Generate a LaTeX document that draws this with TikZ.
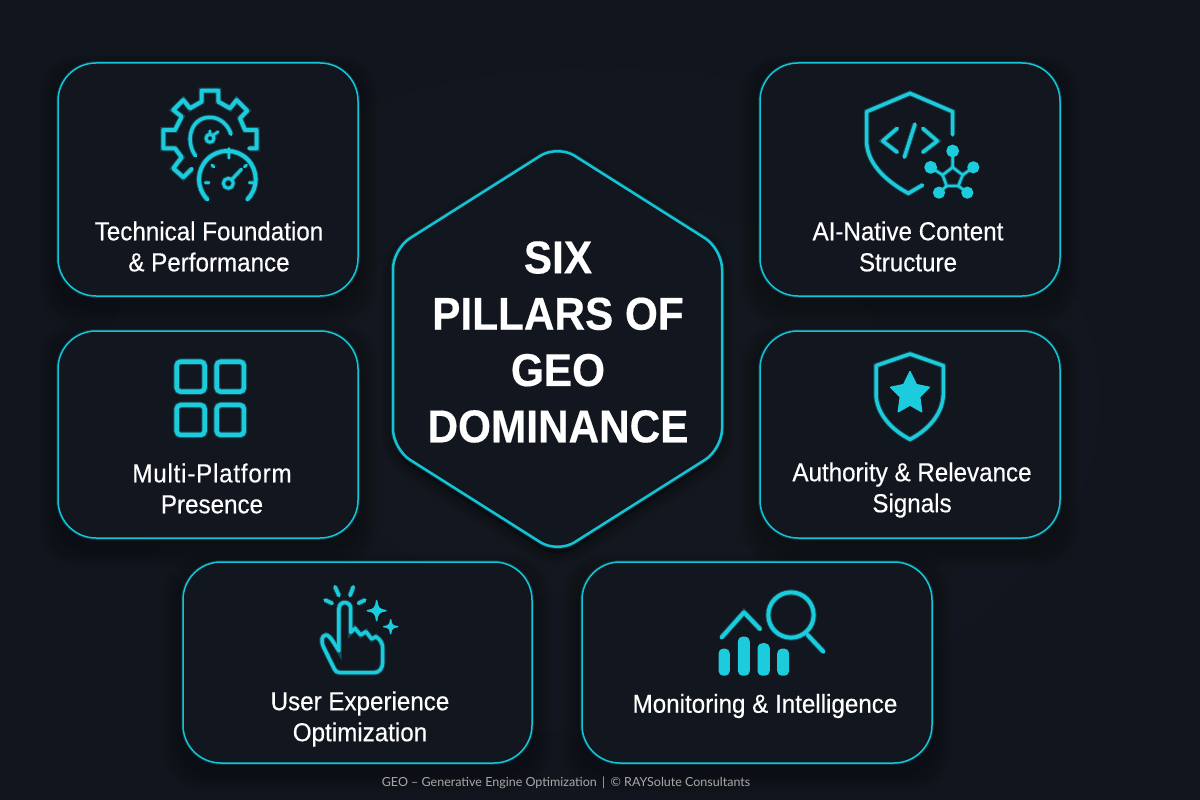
\documentclass[tikz,border=0pt]{standalone}
\usepackage{fontspec}
\setmainfont{Liberation Sans}
\newfontfamily\footfont{Lato}
\usetikzlibrary{calc}
\definecolor{bgc}{HTML}{141820}
\definecolor{bgd}{HTML}{11151D}
\definecolor{ic}{HTML}{1CCBDC}
\definecolor{cardline}{HTML}{14C4D6}
\definecolor{foot}{HTML}{A8A8A8}
\tikzset{
  iconline/.style={draw=ic,line width=#1,line cap=round,line join=round,
    preaction={draw=ic,opacity=.3,line width=#1+2pt}},
  iconfill/.style={fill=ic,draw=ic,line width=1.5pt,line join=round},
  cardbox/.style={draw=cardline,line width=1.5pt,rounded corners=38pt,inner sep=0pt,fill=bgc!40!bgd,
    preaction={draw=cardline,opacity=.2,line width=3.5pt}},
  cardtext/.style={text=white,align=center,font=\fontsize{26}{31}\selectfont\addfontfeature{FakeStretch=0.93,FakeBold=0.4},inner sep=0pt},
  titletext/.style={text=white,align=center,font=\fontsize{46}{56.3}\selectfont\bfseries\addfontfeature{FakeStretch=0.92,FakeBold=0.4},inner sep=0pt},
  foottext/.style={text=foot,font=\footfont\fontsize{12.5}{15}\selectfont,inner sep=0pt},
}
\newcommand{\mkcard}[5]{%
  \foreach \i in {1,...,6}{\fill[black,opacity=.04,rounded corners=38pt]
    ({#2-\i*3.2},{#3+10-\i*3.2}) rectangle ({#4+\i*3.2},{#5+10+\i*3.2});}
  \pgfmathsetmacro{\cw}{#4-#2}\pgfmathsetmacro{\ch}{#5-#3}
  \node[cardbox,minimum width=\cw pt,minimum height=\ch pt] (#1) at ({(#2+#4)/2},{(#3+#5)/2}) {};
}
\begin{document}
\begin{tikzpicture}[x=1pt,y=-1pt]
\useasboundingbox (0,0) rectangle (1200,800);
\fill[bgc] (0,0) rectangle (1200,800);
\shade[inner color=bgc,outer color=bgd] (0,0) rectangle (1200,800);

\mkcard{tl}{58}{63}{358}{296}
\mkcard{ml}{58}{331}{358}{538}
\mkcard{tr}{760}{63}{1060}{296}
\mkcard{mr}{760}{331}{1060}{538}
\mkcard{bl}{183}{562}{532}{763}
\mkcard{br}{582}{562}{932}{763}

% hexagon
\foreach \i in {1,...,5}{\fill[black,opacity=.04,rounded corners=20pt,line join=round,draw=black,line width=\i*5pt]
  (557.5,151) -- (722,255) -- (722,455) -- (557.5,559) -- (393,455) -- (393,255) -- cycle;}
\draw[draw=cardline,line width=2.5pt,rounded corners=20pt,fill=bgc!40!bgd,
  preaction={draw=cardline,opacity=.2,line width=4.5pt}]
  (557.5,145) -- (722,249) -- (722,449) -- (557.5,553) -- (393,449) -- (393,249) -- cycle;

\node[titletext] (title) at (558,342) {SIX\\PILLARS OF\\GEO\\DOMINANCE};

\node[cardtext] (tltext) at (209,246.5) {Technical Foundation\\\& Performance};
\node[cardtext] (mltext) at (212,488.5) {{\addfontfeature{LetterSpace=3}Multi-Platform}\\Presence};
\node[cardtext] (trtext) at (908,246.5) {AI-Native Content\\Structure};
\node[cardtext] (mrtext) at (912,490) {Authority \& Relevance\\Signals};
\node[cardtext] (bltext) at (360,719) {User Experience\\Optimization};
\node[cardtext] (brtext) at (765,706) {Monitoring \& Intelligence};
\node[foottext] (foot) at (566,783) {GEO – Generative Engine Optimization \,|\, © RAYSolute Consultants};

% gear icon
\begin{scope}[shift={(130,70)},x=.3333pt,y=-.3333pt]
\draw[iconline=4pt] (185,297)--(160,322)--(130,295)--(155,262)--(135,235)--(100,235)--(100,180)--(135,180)--(155,140)--(130,120)--(160,90)--(180,115)--(215,95)--(215,62)--(265,62)--(265,95)--(300,115)--(320,90)--(352,122)--(330,145)--(345,180)--(380,180)--(380,235)--(358,235);
\draw[iconline=3.5pt] (197,258) .. controls (165,215) and (180,142) .. (240,142) .. controls (270,142) and (295,165) .. (303,193);
\draw[iconline=3pt] (240,205) circle (12);
\draw[iconline=2.5pt] (250,195)--(265,185) (240,182)--(240,190);
\draw[iconline=4pt] (232,388) arc[start angle=135,end angle=405,radius=85];
\draw[iconline=2.5pt] (297,235)--(297,265) (245,285)--(252,291) (350,285)--(343,291) (225,338)--(238,338) (370,338)--(357,338);
\draw[iconline=3pt] (295,340) circle (15);
\draw[iconline=3pt] (306,328)--(335,297);
\end{scope}

% shield + code + molecule icon
\begin{scope}[shift={(840,80)},x=.3333pt,y=-.3333pt]
\draw[iconline=3.5pt] (338,165)--(338,95)--(210,40)--(80,95)--(80,190) .. controls (85,260) and (150,310) .. (205,340)--(248,315);
\draw[iconline=3.5pt] (172,145)--(128,183)--(172,217);
\draw[iconline=3.5pt] (225,132)--(193,232);
\draw[iconline=3.5pt] (248,145)--(292,183)--(248,217);
\draw[iconline=2.5pt] (338,262)--(368,285)--(355,318)--(320,318)--(308,285)--cycle;
\draw[iconline=2.5pt] (338,262)--(338,213) (368,285)--(400,262) (355,318)--(382,338) (320,318)--(297,338) (308,285)--(272,262);
\fill[iconfill] (338,213) circle (17) (272,262) circle (17) (400,262) circle (16) (297,338) circle (16) (382,338) circle (16);
\end{scope}

% grid icon
\begin{scope}[shift={(150,345)},x=.3333pt,y=-.3333pt]
\foreach \a/\b/\c/\d in {80/50/164/140,200/50/282/140,80/180/164/270,200/180/282/270}{
  \draw[iconline=4.5pt,rounded corners=4pt] (\a,\b) rectangle (\c,\d);}
\end{scope}

% shield + star icon
\begin{scope}[shift={(860,350)},x=.3333pt,y=-.3333pt]
\draw[iconline=3.5pt] (150,12)--(250,47)--(250,130) .. controls (250,190) and (205,240) .. (150,268) .. controls (95,240) and (48,190) .. (48,130)--(48,47)--cycle;
\fill[iconfill] (150,65)--(169,104)--(208,112)--(179,141)--(185,185)--(150,165)--(115,185)--(121,141)--(92,112)--(131,104)--cycle;
\end{scope}

% hand icon
\begin{scope}[shift={(290,575)},x=.3333pt,y=-.3333pt]
\draw[iconline=3.5pt] (135,35)--(147,62) (190,35)--(180,62) (105,75)--(127,85) (225,75)--(205,85);
\fill[iconfill] (260,77) .. controls (262,98) and (268,105) .. (288,107) .. controls (268,109) and (262,116) .. (260,137) .. controls (258,116) and (252,109) .. (232,107) .. controls (252,105) and (258,98) .. (260,77) -- cycle;
\fill[iconfill] (302,134) .. controls (303,149) and (308,154) .. (323,155) .. controls (308,156) and (303,161) .. (302,176) .. controls (301,161) and (296,156) .. (281,155) .. controls (296,154) and (301,149) .. (302,134) -- cycle;
\draw[iconline=3.5pt] (147,228)--(147,100) arc[start angle=180,end angle=360,radius=17.5]--(182,172)--(195,160)--(212,180)--(228,170)--(245,192)--(258,185) .. controls (272,195) and (278,205) .. (278,220)--(278,262) .. controls (278,280) and (268,293) .. (252,293)--(150,293) .. controls (140,293) and (137,288) .. (133,282)--(100,215) .. controls (92,198) and (95,182) .. (108,180) .. controls (120,180) and (135,210) .. (147,228)--cycle;
\end{scope}

% chart + magnifier icon
\begin{scope}[shift={(700,580)},x=.3333pt,y=-.3333pt]
\draw[iconline=4pt] (65,172)--(132,97)--(180,147);
\foreach \a/\b/\c in {58/87/208,116/147/172,175/207/192,234/265/208}{
  \fill[iconfill,rounded corners=4pt] (\a,\c) rectangle (\b,285);}
\draw[iconline=4pt] (273,105) circle (68);
\draw[iconline=4pt] (323,165)--(370,215);
\end{scope}
\end{tikzpicture}
\end{document}
